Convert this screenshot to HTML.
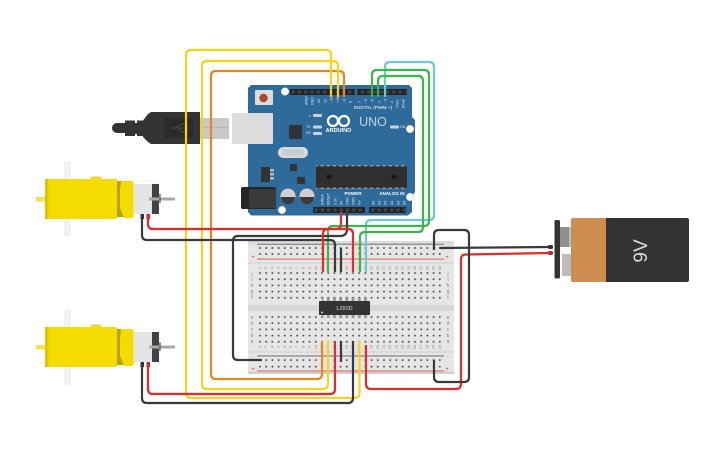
<!DOCTYPE html>
<html><head><meta charset="utf-8"><style>
html,body{margin:0;padding:0;background:#fff}
svg{display:block;font-family:"Liberation Sans",sans-serif}
.w{fill:none;stroke-width:2.2;stroke-linecap:butt}
.n{font-size:4px;fill:#8a8a8a;text-anchor:middle}
.a{font-size:3.6px;fill:#dfe9f2;text-anchor:start}
.b{font-size:5px;fill:#888;text-anchor:middle}
</style></head><body>
<svg width="725" height="453" viewBox="0 0 725 453" xmlns="http://www.w3.org/2000/svg">
<defs>
<pattern id="h" patternUnits="userSpaceOnUse" x="256.9" y="269.9" width="6.2" height="6.2"><circle cx="3.1" cy="3.1" r="1" fill="#505050"/></pattern>
<pattern id="h2" patternUnits="userSpaceOnUse" x="256.9" y="313.9" width="6.2" height="6.2"><circle cx="3.1" cy="3.1" r="1" fill="#505050"/></pattern>
<pattern id="r1" patternUnits="userSpaceOnUse" x="256.9" y="245" width="6.2" height="6"><circle cx="3.1" cy="3" r="1" fill="#505050"/></pattern>
<pattern id="r2" patternUnits="userSpaceOnUse" x="256.9" y="357" width="6.2" height="6.6"><circle cx="3.1" cy="3.1" r="1" fill="#505050"/></pattern>
<pattern id="pinT" patternUnits="userSpaceOnUse" x="290" y="89" width="6.3" height="6"><rect x="1.5" y="1.5" width="3.2" height="3" fill="#454545"/></pattern>
<pattern id="pinB" patternUnits="userSpaceOnUse" x="313" y="207" width="6.3" height="6"><rect x="1.5" y="1.5" width="3.2" height="3" fill="#454545"/></pattern>
<pattern id="ch" patternUnits="userSpaceOnUse" x="257" y="0" width="6.2" height="6"><rect x="1.6" y="0" width="3" height="6" fill="#9a9a9a"/></pattern>
</defs>

<!-- Breadboard -->
<rect x="248" y="241" width="206" height="133" rx="2" fill="#e6e6e6"/>
<rect x="248" y="241" width="206" height="3" fill="#dcdcdc"/>
<rect x="248" y="262" width="206" height="2" fill="#dadada"/>
<rect x="248" y="305" width="206" height="6" fill="#d6d6d6"/>
<rect x="248" y="351" width="206" height="2" fill="#dadada"/>
<rect x="248" y="371.5" width="206" height="2.5" fill="#d0d0d0"/>
<rect x="257" y="243.600" width="187" height="1.500" fill="#949494"/>
<rect x="257" y="258.300" width="187" height="1.600" fill="#dc9090"/>
<rect x="257" y="355.200" width="187" height="1.500" fill="#949494"/>
<rect x="257" y="370.200" width="187" height="1.600" fill="#dc9090"/>
<rect x="257" y="245" width="186" height="12" fill="url(#r1)"/>
<rect x="257" y="357" width="186" height="13" fill="url(#r2)"/>
<rect x="257" y="270" width="186" height="31" fill="url(#h)"/>
<rect x="257" y="314" width="186" height="31" fill="url(#h2)"/>
<text class="b" x="253" y="247">-</text><text class="b" x="448" y="247">-</text>
<text x="253" y="259" font-size="6" fill="#d33" text-anchor="middle">+</text><text x="447" y="259" font-size="6" fill="#d33" text-anchor="middle">+</text>
<text class="b" x="253" y="358">-</text><text class="b" x="448" y="358">-</text>
<text x="253" y="371" font-size="6" fill="#d33" text-anchor="middle">+</text><text x="447" y="371" font-size="6" fill="#d33" text-anchor="middle">+</text>
<g>
<text class="b" x="252" y="275">j</text><text class="b" x="252" y="281">i</text><text class="b" x="252" y="287">h</text><text class="b" x="252" y="293">g</text><text class="b" x="252" y="299">f</text>
<text class="b" x="448" y="275">j</text><text class="b" x="448" y="281">i</text><text class="b" x="448" y="287">h</text><text class="b" x="448" y="293">g</text><text class="b" x="448" y="299">f</text>
<text class="b" x="252" y="319">e</text><text class="b" x="252" y="325">d</text><text class="b" x="252" y="331">c</text><text class="b" x="252" y="337">b</text><text class="b" x="252" y="343">a</text>
<text class="b" x="448" y="319">e</text><text class="b" x="448" y="325">d</text><text class="b" x="448" y="331">c</text><text class="b" x="448" y="337">b</text><text class="b" x="448" y="343">a</text>
</g>
<g>
<text class="n" transform="translate(261,268) rotate(-90)">1</text><text class="n" transform="translate(267.2,268) rotate(-90)">2</text><text class="n" transform="translate(273.4,268) rotate(-90)">3</text><text class="n" transform="translate(279.6,268) rotate(-90)">4</text><text class="n" transform="translate(285.8,268) rotate(-90)">5</text><text class="n" transform="translate(292,268) rotate(-90)">6</text><text class="n" transform="translate(298.2,268) rotate(-90)">7</text><text class="n" transform="translate(304.4,268) rotate(-90)">8</text><text class="n" transform="translate(310.6,268) rotate(-90)">9</text><text class="n" transform="translate(316.8,268) rotate(-90)">10</text><text class="n" transform="translate(323,268) rotate(-90)">11</text><text class="n" transform="translate(329.2,268) rotate(-90)">12</text><text class="n" transform="translate(335.4,268) rotate(-90)">13</text><text class="n" transform="translate(341.6,268) rotate(-90)">14</text><text class="n" transform="translate(347.8,268) rotate(-90)">15</text><text class="n" transform="translate(354,268) rotate(-90)">16</text><text class="n" transform="translate(360.2,268) rotate(-90)">17</text><text class="n" transform="translate(366.4,268) rotate(-90)">18</text><text class="n" transform="translate(372.6,268) rotate(-90)">19</text><text class="n" transform="translate(378.8,268) rotate(-90)">20</text><text class="n" transform="translate(385,268) rotate(-90)">21</text><text class="n" transform="translate(391.2,268) rotate(-90)">22</text><text class="n" transform="translate(397.4,268) rotate(-90)">23</text><text class="n" transform="translate(403.6,268) rotate(-90)">24</text><text class="n" transform="translate(409.8,268) rotate(-90)">25</text><text class="n" transform="translate(416,268) rotate(-90)">26</text><text class="n" transform="translate(422.2,268) rotate(-90)">27</text><text class="n" transform="translate(428.4,268) rotate(-90)">28</text><text class="n" transform="translate(434.6,268) rotate(-90)">29</text><text class="n" transform="translate(440.8,268) rotate(-90)">30</text>
<text class="n" transform="translate(261,347) rotate(-90)">1</text><text class="n" transform="translate(267.2,347) rotate(-90)">2</text><text class="n" transform="translate(273.4,347) rotate(-90)">3</text><text class="n" transform="translate(279.6,347) rotate(-90)">4</text><text class="n" transform="translate(285.8,347) rotate(-90)">5</text><text class="n" transform="translate(292,347) rotate(-90)">6</text><text class="n" transform="translate(298.2,347) rotate(-90)">7</text><text class="n" transform="translate(304.4,347) rotate(-90)">8</text><text class="n" transform="translate(310.6,347) rotate(-90)">9</text><text class="n" transform="translate(316.8,347) rotate(-90)">10</text><text class="n" transform="translate(323,347) rotate(-90)">11</text><text class="n" transform="translate(329.2,347) rotate(-90)">12</text><text class="n" transform="translate(335.4,347) rotate(-90)">13</text><text class="n" transform="translate(341.6,347) rotate(-90)">14</text><text class="n" transform="translate(347.8,347) rotate(-90)">15</text><text class="n" transform="translate(354,347) rotate(-90)">16</text><text class="n" transform="translate(360.2,347) rotate(-90)">17</text><text class="n" transform="translate(366.4,347) rotate(-90)">18</text><text class="n" transform="translate(372.6,347) rotate(-90)">19</text><text class="n" transform="translate(378.8,347) rotate(-90)">20</text><text class="n" transform="translate(385,347) rotate(-90)">21</text><text class="n" transform="translate(391.2,347) rotate(-90)">22</text><text class="n" transform="translate(397.4,347) rotate(-90)">23</text><text class="n" transform="translate(403.6,347) rotate(-90)">24</text><text class="n" transform="translate(409.8,347) rotate(-90)">25</text><text class="n" transform="translate(416,347) rotate(-90)">26</text><text class="n" transform="translate(422.2,347) rotate(-90)">27</text><text class="n" transform="translate(428.4,347) rotate(-90)">28</text><text class="n" transform="translate(434.6,347) rotate(-90)">29</text><text class="n" transform="translate(440.8,347) rotate(-90)">30</text>
</g>
<!-- L293D -->
<rect x="322" y="298" width="47" height="3" fill="url(#ch)"/>
<rect x="322" y="315" width="47" height="3" fill="url(#ch)"/>
<rect x="319" y="301" width="51" height="14" rx="1" fill="#333"/>
<circle cx="322" cy="312.5" r="1" fill="#ddd"/>
<text x="344.5" y="310" font-size="5.5" fill="#ddd" text-anchor="middle">L293D</text>

<!-- USB cable -->
<rect x="200" y="118" width="29" height="21" fill="#c9c9c9"/>
<rect x="200" y="127" width="29" height="1" fill="#b5b5b5"/>
<path d="M112 128 a5 5 0 0 1 5-5 H125 V120.500 H135 V123 H137 V120.500 H143 L148 114 L151 112 H200 V144 H151 L148 142 L143 137 V136 H137 V134 H135 V136 H125 V133 H117 a5 5 0 0 1-5-5Z" fill="#333"/>
<rect x="164" y="118" width="29" height="20" fill="#2b2b2b"/>
<path d="M170 128 H190 M176 128 L181 124 H184 M178 128 L182 132 H185" stroke="#4a4a4a" fill="none" stroke-width="1"/>

<!-- Arduino -->
<path d="M251 85 H409 L412 88 V117 L415 120 V192 L412 196 V212 L408 215.500 H251 L248 212 V88 Z" fill="#2f6b9a"/>
<rect x="232" y="113" width="41" height="31" rx="1" fill="#dcdcdc"/>
<rect x="241" y="187" width="35" height="22" rx="2" fill="#262626"/>
<rect x="249" y="189" width="27" height="19" rx="2" fill="#3b3b3b"/>
<circle cx="285" cy="91.500" r="3.800" fill="#fff" stroke="#cfcfcf" stroke-width=".5"/>
<circle cx="410" cy="129" r="3.800" fill="#fff" stroke="#cfcfcf" stroke-width=".5"/>
<circle cx="410" cy="197" r="3.800" fill="#fff" stroke="#cfcfcf" stroke-width=".5"/>
<circle cx="282" cy="210" r="3.800" fill="#fff" stroke="#cfcfcf" stroke-width=".5"/>
<rect x="290" y="89" width="65" height="6" fill="#242424"/><rect x="290" y="89" width="65" height="6" fill="url(#pinT)"/>
<rect x="357" y="89" width="50" height="6" fill="#242424"/><rect x="357" y="89" width="50" height="6" fill="url(#pinT)"/>
<rect x="313" y="207" width="52" height="6" fill="#242424"/><rect x="313" y="207" width="52" height="6" fill="url(#pinB)"/>
<rect x="369" y="207" width="37" height="6" fill="#242424"/><rect x="369" y="207" width="37" height="6" fill="url(#pinB)"/>
<rect x="255" y="90" width="18" height="15" rx="1" fill="#dcdcdc"/>
<circle cx="263.500" cy="98" r="4.200" fill="#a8452f"/>
<rect x="289" y="125" width="13" height="14" fill="#2e3438"/>
<rect x="290" y="164" width="7" height="7" fill="#2e3438"/>
<rect x="278" y="147" width="30" height="11" rx="5.500" fill="#d9d9d9"/>
<rect x="282" y="149.500" width="22" height="6" rx="3" fill="#c5cbd0"/>
<rect x="261" y="167" width="9" height="15" fill="#333"/><rect x="270" y="169" width="4" height="2.500" fill="#bbb"/><rect x="270" y="173" width="4" height="2.500" fill="#bbb"/><rect x="270" y="177" width="4" height="2.500" fill="#bbb"/>
<rect x="297" y="177" width="8" height="7" fill="#333"/>
<rect x="316" y="166" width="91" height="22" fill="#2f2f2f"/>
<rect x="316" y="165" width="91" height="1.500" fill="url(#ch)"/><rect x="316" y="187.500" width="91" height="1.500" fill="url(#ch)"/>
<circle cx="329" cy="177" r="2.500" fill="#161616"/><circle cx="394" cy="177" r="2.500" fill="#161616"/>
<circle cx="288" cy="196" r="7.500" fill="#cfcfcf"/><path d="M281 197 a7 7 0 0 0 14 0Z" fill="#3a3a3a"/>
<circle cx="307" cy="196" r="7.500" fill="#cfcfcf"/><path d="M300 197 a7 7 0 0 0 14 0Z" fill="#3a3a3a"/>
<rect x="313" y="114" width="9" height="3" rx="1" fill="#c9d3da"/><rect x="313" y="125.500" width="9" height="3" rx="1" fill="#c9d3da"/><rect x="313" y="132" width="9" height="3" rx="1" fill="#c9d3da"/><rect x="390" y="125.500" width="9" height="3" rx="1" fill="#c9d3da"/>
<text x="309" y="117" font-size="3.500" fill="#dfe9f2">L</text><text x="306" y="128" font-size="3.500" fill="#dfe9f2">TX</text><text x="306" y="134" font-size="3.500" fill="#dfe9f2">RX</text><text x="400" y="128" font-size="3.500" fill="#dfe9f2">ON</text>
<circle cx="333" cy="121" r="5" fill="none" stroke="#fff" stroke-width="2.200"/><circle cx="344" cy="121" r="5" fill="none" stroke="#fff" stroke-width="2.200"/>
<text x="338.500" y="132" font-size="5.500" font-weight="bold" fill="#fff" text-anchor="middle">ARDUINO</text>
<text x="373" y="126" font-size="12.500" fill="#bcd3e4" text-anchor="middle">UNO</text>
<text x="373" y="109" font-size="4.800" fill="#fff" text-anchor="middle">DIGITAL (PWM ~)</text>
<text x="353" y="195" font-size="4.500" font-weight="bold" fill="#fff" text-anchor="middle">POWER</text>
<text x="392" y="195" font-size="4.500" font-weight="bold" fill="#fff" text-anchor="middle">ANALOG IN</text>
<g>
<text class="a" transform="translate(307.500,105) rotate(-90)">AREF</text><text class="a" transform="translate(313.500,105) rotate(-90)">GND</text><text class="a" transform="translate(320,103) rotate(-90)">13</text><text class="a" transform="translate(326.500,103) rotate(-90)">12</text><text class="a" transform="translate(332.500,103) rotate(-90)">~11</text><text class="a" transform="translate(339,103) rotate(-90)">~10</text><text class="a" transform="translate(345.500,103) rotate(-90)">~9</text><text class="a" transform="translate(351.500,103) rotate(-90)">8</text>
<text class="a" transform="translate(360.500,103) rotate(-90)">7</text><text class="a" transform="translate(367,103) rotate(-90)">~6</text><text class="a" transform="translate(373.500,103) rotate(-90)">~5</text><text class="a" transform="translate(380.500,103) rotate(-90)">4</text><text class="a" transform="translate(386.500,103) rotate(-90)">~3</text><text class="a" transform="translate(393,103) rotate(-90)">2</text><text class="a" transform="translate(398.500,108) rotate(-90)">TX▸1</text><text class="a" transform="translate(404.500,108) rotate(-90)">RX◂0</text>
<text class="a" transform="translate(323.500,205) rotate(-90)">IOREF</text><text class="a" transform="translate(329.500,205) rotate(-90)">RESET</text><text class="a" transform="translate(336.500,205) rotate(-90)">3.3V</text><text class="a" transform="translate(342.500,205) rotate(-90)">5V</text><text class="a" transform="translate(348.500,205) rotate(-90)">GND</text><text class="a" transform="translate(354.500,205) rotate(-90)">GND</text><text class="a" transform="translate(360.500,205) rotate(-90)">Vin</text>
<text class="a" transform="translate(374.500,205) rotate(-90)">A0</text><text class="a" transform="translate(380.500,205) rotate(-90)">A1</text><text class="a" transform="translate(386.500,205) rotate(-90)">A2</text><text class="a" transform="translate(393,205) rotate(-90)">A3</text><text class="a" transform="translate(399.500,205) rotate(-90)">A4</text><text class="a" transform="translate(405.500,205) rotate(-90)">A5</text>
</g>

<!-- Motor 1 -->
<g>
<rect x="64" y="161" width="7" height="75" rx="2" fill="#f0f1f1"/>
<rect x="36" y="197" width="9" height="4.500" fill="#f6e05a"/>
<rect x="91" y="176.500" width="10" height="4" rx="1" fill="#e8d33a"/>
<rect x="45" y="179" width="72" height="40" rx="1" fill="#f4dc00"/>
<rect x="45" y="179" width="3.500" height="40" fill="#e3c400"/>
<path d="M117 181 L124 181 V217 L117 217Z" fill="#b5a313"/>
<path d="M121 181 H131 Q134 181 134 184 V214 Q134 218 131 218 H124 L120 208 V190Z" fill="#f4dc00"/>
<rect x="134" y="181" width="25" height="33" fill="#fff" stroke="#f0f0f0" stroke-width=".8"/>
<rect x="134" y="184" width="18" height="30" fill="#e4e5e6"/>
<rect x="152" y="184" width="7" height="30" fill="#424244"/>
<rect x="149" y="197.500" width="26" height="3" fill="#a9a9a9"/>
<rect x="159.500" y="194" width="1" height="9" fill="#333"/>
<rect x="140.500" y="214" width="3.500" height="5" fill="#333"/>
<rect x="146.500" y="214" width="3.500" height="5" fill="#b5312f"/>
</g>
<!-- Motor 2 -->
<g>
<rect x="64" y="310" width="7" height="75" rx="2" fill="#f0f1f1"/>
<rect x="36" y="345" width="9" height="4.500" fill="#f6e05a"/>
<rect x="91" y="324.500" width="10" height="4" rx="1" fill="#e8d33a"/>
<rect x="45" y="327" width="72" height="40" rx="1" fill="#f4dc00"/>
<rect x="45" y="327" width="3.500" height="40" fill="#e3c400"/>
<path d="M117 329 L124 329 V365 L117 365Z" fill="#b5a313"/>
<path d="M121 329 H131 Q134 329 134 332 V362 Q134 366 131 366 H124 L120 356 V338Z" fill="#f4dc00"/>
<rect x="134" y="329" width="25" height="33" fill="#fff" stroke="#f0f0f0" stroke-width=".8"/>
<rect x="134" y="332" width="18" height="30" fill="#e4e5e6"/>
<rect x="152" y="332" width="7" height="30" fill="#424244"/>
<rect x="149" y="345.500" width="26" height="3" fill="#a9a9a9"/>
<rect x="159.500" y="342" width="1" height="9" fill="#333"/>
<rect x="140.500" y="362" width="3.500" height="5" fill="#333"/>
<rect x="146.500" y="362" width="3.500" height="5" fill="#b5312f"/>
</g>

<!-- Battery -->
<rect x="560" y="227" width="9" height="20" fill="#8f8f8f"/><rect x="569" y="227" width="3" height="20" fill="#bdbdbd"/>
<rect x="562" y="254" width="10" height="22" fill="#bcbcbc"/>
<rect x="554.500" y="220" width="5.500" height="58.500" rx="1.500" fill="#333"/>
<rect x="571" y="218" width="36" height="64" rx="2" fill="#d08d52"/>
<path d="M606 218 H687 Q689 218 689 220 V280 Q689 282 687 282 H606Z" fill="#333"/>
<text transform="translate(647,251) rotate(-90)" font-size="19" fill="#dcdcdc" text-anchor="middle">9V</text>

<!-- Wires -->
<g>
<path class="w" stroke="#e8871e" d="M322 341 V374 Q322 379 317 379 H216 Q211 379 211 374 V76 Q211 71 216 71 H339 Q344 71 344 76 V97"/>
<path class="w" stroke="#f5d516" d="M328 341 V384 Q328 389 323 389 H207 Q202 389 202 384 V66 Q202 61 207 61 H333 Q338 61 338 66 V97"/>
<path class="w" stroke="#f5d516" d="M359.500 341 V393 Q359.500 398 354 398 H191 Q186 398 186 393 V55 Q186 50 191 50 H326 Q331 50 331 55 V97"/>
<path class="w" stroke="#6ccad0" d="M385 97 V67 Q385 62 390 62 H429 Q434 62 434 67 V215 Q434 220 429 220 H371 Q366 220 366 225 V272"/>
<path class="w" stroke="#3cb54a" d="M372 97 V75 Q372 70 377 70 H424 Q429 70 429 75 V221 Q429 226 424 226 H333 Q328 226 328 231 V272"/>
<path class="w" stroke="#3cb54a" d="M378 97 V81 Q378 76 383 76 H418 Q423 76 423 81 V227 Q423 232 418 232 H365 Q360 232 360 237 V272"/>
<path class="w" stroke="#3a3a3a" d="M262 360 H238 Q233 360 233 355 V241 Q233 236 238 236 H340 Q347 236 347 229 V212"/>
<path class="w" stroke="#3a3a3a" d="M142 216 V235 Q142 240 147 240 H330 Q335 240 335 245 V272"/>
<path class="w" stroke="#e32b2b" d="M148 216 V224 Q148 229 153 229 H348 Q353 229 353 234 V272"/>
<path class="w" stroke="#e32b2b" d="M341 212 V224 Q341 229 336 229 H328 Q323 229 323 234 V272"/>
<path class="w" stroke="#3a3a3a" d="M341 248 V272"/>
<path class="w" stroke="#3a3a3a" d="M341 341 V362"/>
<path class="w" stroke="#e32b2b" d="M335 341 V389 Q335 394 330 394 H153 Q148 394 148 389 V364"/>
<path class="w" stroke="#3a3a3a" d="M353 341 V398 Q353 403 348 403 H147 Q142 403 142 398 V364"/>
<path class="w" stroke="#e32b2b" d="M366 345 V384 Q366 389 371 389 H456 Q461 389 461 384 V259 Q461 254.500 466 254.500 L550 253"/>
<path class="w" stroke="#3a3a3a" d="M434 250 V235 Q434 230 439 230 H464 Q469 230 469 235 V377 Q469 382 464 382 H439 Q434 382 434 377 V360"/>
<path class="w" stroke="#3a3a3a" d="M440 248 L550 247"/>
<rect x="548" y="245" width="5" height="4" rx="1.500" fill="#333"/>
<rect x="548" y="251" width="5" height="4" rx="1.500" fill="#b5312f"/>
</g>
</svg>
</body></html>
